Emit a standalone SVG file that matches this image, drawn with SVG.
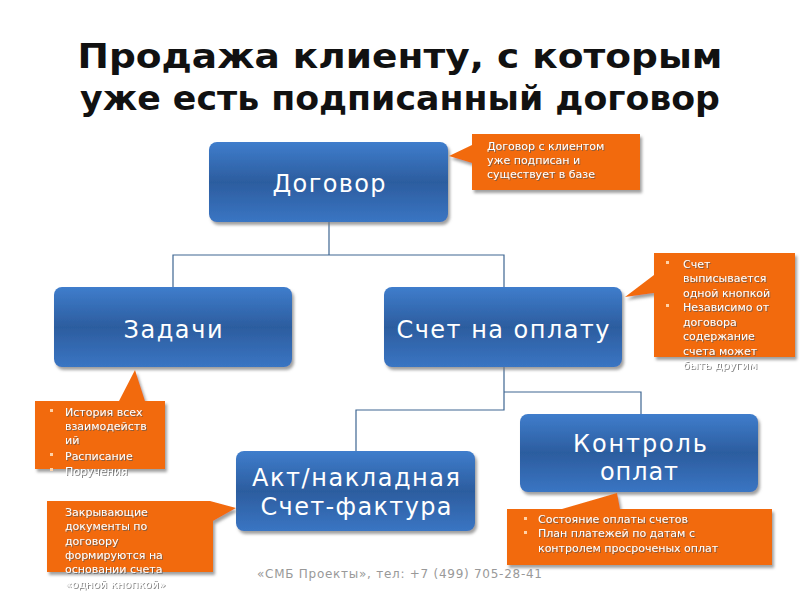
<svg xmlns="http://www.w3.org/2000/svg" width="800" height="600" viewBox="0 0 800 600">
<defs>
<linearGradient id="blue" x1="0" y1="0" x2="0" y2="1">
<stop offset="0" stop-color="#3F7DCC"/>
<stop offset="0.5" stop-color="#2C5D9F"/>
<stop offset="1" stop-color="#3A75C3"/>
</linearGradient>
<filter id="sh" x="-10%" y="-10%" width="130%" height="140%">
<feDropShadow dx="2" dy="3" stdDeviation="1.5" flood-color="#777" flood-opacity="0.7"/>
</filter>
<filter id="tsh" x="-10%" y="-20%" width="130%" height="150%">
<feDropShadow dx="1" dy="1" stdDeviation="0.6" flood-color="#555" flood-opacity="0.7"/>
</filter>
</defs>
<style>
.title{font-family:"DejaVu Sans",sans-serif;font-weight:bold;font-size:33px;fill:#111;text-anchor:middle}
.node rect{fill:url(#blue);filter:url(#sh)}
.nt{font-family:"DejaVu Sans",sans-serif;font-size:24px;fill:#fff;text-anchor:middle}
.call path{fill:#F26A10;filter:url(#sh)}
.ct{font-family:"DejaVu Sans",sans-serif;font-size:11px;fill:#fff;filter:url(#tsh)}
.bl{fill:#FFD2A8}
.conn{fill:none;stroke:#3E6692;stroke-width:1.2}
.foot{font-family:"DejaVu Sans",sans-serif;font-size:12px;fill:#999}
</style>
<rect width="800" height="600" fill="#fff"/>
<text class="title" x="400" y="68" textLength="645" lengthAdjust="spacingAndGlyphs">Продажа клиенту, с которым</text>
<text class="title" x="400" y="110" textLength="640" lengthAdjust="spacingAndGlyphs">уже есть подписанный договор</text>

<g id="connectors" class="conn">
<path d="M329,222 V255 M173,287 V255 H504 V287"/>
<path d="M504,367 V410 H356 V451"/>
<path d="M504,392 H641 V414"/>
</g>

<g id="node-dogovor" class="node">
<rect x="209" y="142" width="239" height="80" rx="8"/>
<text class="nt" x="329" y="192" textLength="113" lengthAdjust="spacing">Договор</text>
</g>
<g id="node-zadachi" class="node">
<rect x="54" y="287" width="238" height="80" rx="8"/>
<text class="nt" x="173" y="338" textLength="99" lengthAdjust="spacing">Задачи</text>
</g>
<g id="node-schet" class="node">
<rect x="384" y="287" width="238" height="80" rx="8"/>
<text class="nt" x="503" y="338" textLength="213" lengthAdjust="spacing">Счет на оплату</text>
</g>
<g id="node-kontrol" class="node">
<rect x="520" y="414" width="238" height="78" rx="8"/>
<text class="nt" x="640" y="452" textLength="134" lengthAdjust="spacing">Контроль</text>
<text class="nt" x="639" y="480" textLength="78" lengthAdjust="spacing">оплат</text>
</g>
<g id="node-akt" class="node">
<rect x="236" y="451" width="239" height="80" rx="8"/>
<text class="nt" x="356" y="486" textLength="208" lengthAdjust="spacing">Акт/накладная</text>
<text class="nt" x="356" y="515" textLength="191" lengthAdjust="spacing">Счет-фактура</text>
</g>

<g id="callout-dogovor" class="call">
<path d="M472,134 H640 V190 H472 V163 L449,156 L472,145 Z"/>
<text class="ct" x="487" y="150">Договор с клиентом</text>
<text class="ct" x="487" y="164">уже подписан и</text>
<text class="ct" x="487" y="178">существует в базе</text>
</g>

<g id="callout-schet" class="call">
<path d="M654,253 H795 V357 H654 V293 L625,297 L654,275 Z"/>
<rect class="bl" x="666" y="261" width="3" height="3"/>
<text class="ct" x="683" y="268">Счет</text>
<text class="ct" x="683" y="282">выписывается</text>
<text class="ct" x="683" y="297">одной кнопкой</text>
<rect class="bl" x="666" y="304" width="3" height="3"/>
<text class="ct" x="683" y="311">Независимо от</text>
<text class="ct" x="683" y="326">договора</text>
<text class="ct" x="683" y="340">содержание</text>
<text class="ct" x="683" y="355">счета может</text>
<text class="ct" x="683" y="369">быть другим</text>
</g>

<g id="callout-zadachi" class="call">
<path d="M35,401 H119 L135,370 L145,401 H165 V469 H35 Z"/>
<rect class="bl" x="50" y="409" width="3" height="3"/>
<text class="ct" x="65" y="416">История всех</text>
<text class="ct" x="65" y="430">взаимодейств</text>
<text class="ct" x="65" y="444">ий</text>
<rect class="bl" x="50" y="453" width="3" height="3"/>
<text class="ct" x="65" y="460">Расписание</text>
<rect class="bl" x="50" y="468" width="3" height="3"/>
<text class="ct" x="65" y="475">Поручения</text>
</g>

<g id="callout-akt" class="call">
<path d="M47,501 H210 L236,508 L213,521 V572 H47 Z"/>
<text class="ct" x="65" y="516">Закрывающие</text>
<text class="ct" x="65" y="530">документы по</text>
<text class="ct" x="65" y="545">договору</text>
<text class="ct" x="65" y="559">формируются на</text>
<text class="ct" x="65" y="573">основании счета</text>
<text class="ct" x="65" y="588">«одной кнопкой»</text>
</g>

<g id="callout-kontrol" class="call">
<path d="M507,509 H562 L617,493 L620,509 H772 V565 H507 Z"/>
<rect class="bl" x="524" y="517" width="3" height="3"/>
<text class="ct" x="538" y="523">Состояние оплаты счетов</text>
<rect class="bl" x="524" y="531" width="3" height="3"/>
<text class="ct" x="538" y="537">План платежей по датам с</text>
<text class="ct" x="538" y="552">контролем просроченых оплат</text>
</g>

<text class="foot" x="257" y="578" textLength="285" lengthAdjust="spacing">«СМБ Проекты», тел: +7 (499) 705-28-41</text>
</svg>
